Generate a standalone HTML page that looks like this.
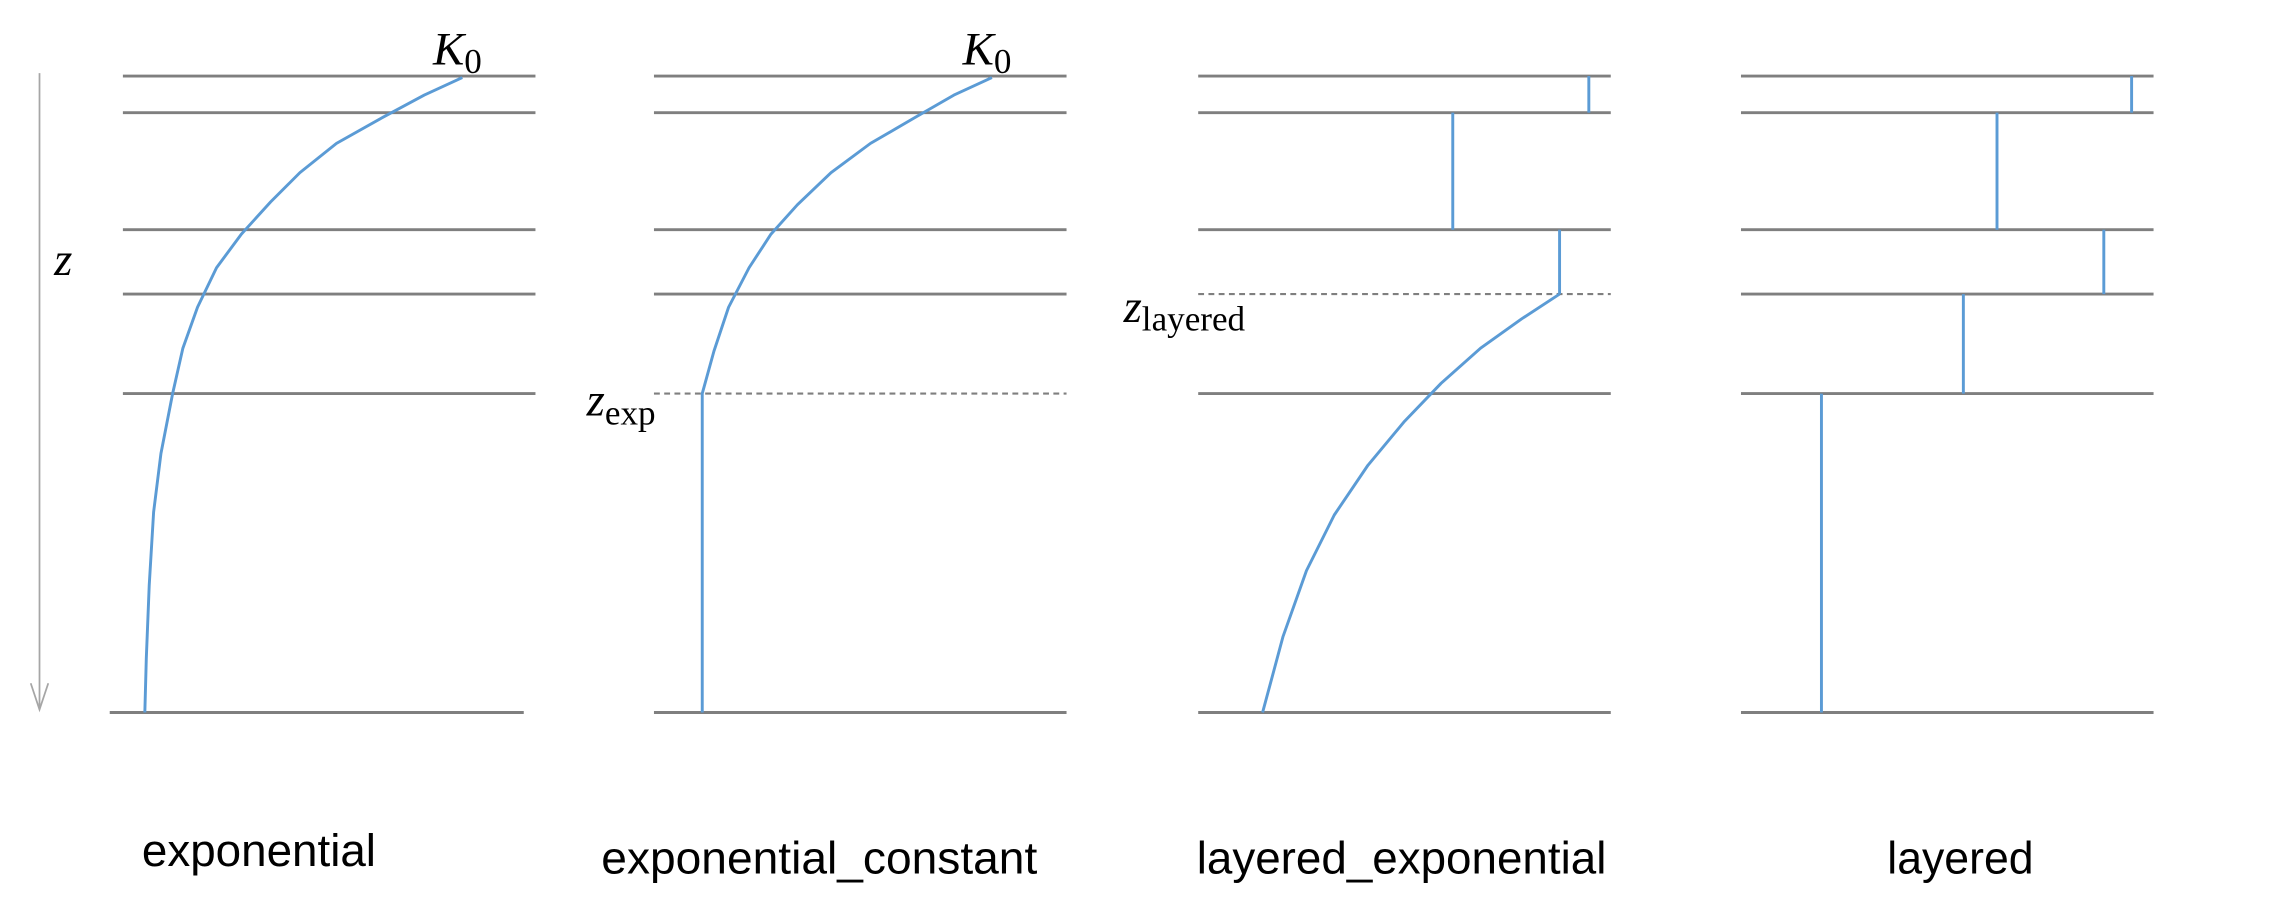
<!DOCTYPE html>
<html><head><style>html,body{margin:0;padding:0;background:#fff}svg{display:block}</style></head>
<body>
<svg width="2294" height="903" viewBox="0 0 1568 617.2" preserveAspectRatio="none" xmlns="http://www.w3.org/2000/svg">
<g stroke="#7f7f7f" stroke-width="2" fill="none">
<line x1="84" y1="52" x2="366" y2="52"/><line x1="84" y1="77" x2="366" y2="77"/><line x1="84" y1="157" x2="366" y2="157"/><line x1="84" y1="201" x2="366" y2="201"/><line x1="84" y1="269" x2="366" y2="269"/><line x1="75" y1="487" x2="358" y2="487"/>
<line x1="447" y1="52" x2="729" y2="52"/><line x1="447" y1="77" x2="729" y2="77"/><line x1="447" y1="157" x2="729" y2="157"/><line x1="447" y1="201" x2="729" y2="201"/><line x1="447" y1="487" x2="729" y2="487"/>
<line x1="819" y1="52" x2="1101" y2="52"/><line x1="819" y1="77" x2="1101" y2="77"/><line x1="819" y1="157" x2="1101" y2="157"/><line x1="819" y1="269" x2="1101" y2="269"/><line x1="819" y1="487" x2="1101" y2="487"/>
<line x1="1190" y1="52" x2="1472" y2="52"/><line x1="1190" y1="77" x2="1472" y2="77"/><line x1="1190" y1="157" x2="1472" y2="157"/><line x1="1190" y1="201" x2="1472" y2="201"/><line x1="1190" y1="269" x2="1472" y2="269"/><line x1="1190" y1="487" x2="1472" y2="487"/>
</g>
<g stroke="#7f7f7f" stroke-width="1.5" stroke-dasharray="4,3">
<line x1="447" y1="269" x2="729" y2="269"/><line x1="819" y1="201" x2="1101" y2="201"/>
</g>
<g stroke="#a6a6a6" stroke-width="1.2" fill="none">
<line x1="27" y1="50" x2="27" y2="485"/><polyline points="21,467 27,485 33,467"/>
</g>
<g stroke="#5b9bd5" stroke-width="2" fill="none" stroke-linejoin="round">
<polyline points="316,53 290,65 262,80 230,98 205,118 185,138 165,160 148,183 135,210 125,238 118,269 110,310 105,350 102,400 100,450 99,487"/>
<polyline points="678,53 652,65 626,80 595,98 568,118 545,140 527,160 512,183 498,210 488,240 480,269 480,487"/>
<polyline points="1086,52 1086,77"/><polyline points="993,77 993,157"/><polyline points="1066,157 1066,201"/>
<polyline points="1066,201 1040,218 1012,238 985,262 960,288 935,318 912,352 893,390 877,435 863,487"/>
<line x1="1457" y1="52" x2="1457" y2="77"/><line x1="1365" y1="77" x2="1365" y2="157"/><line x1="1438" y1="157" x2="1438" y2="201"/><line x1="1342" y1="201" x2="1342" y2="269"/><line x1="1245" y1="269" x2="1245" y2="487"/>
</g>
<g font-family="Liberation Serif, serif" fill="#000">
<text x="37" y="188" font-size="32" font-style="italic">z</text>
<text x="296" y="44" font-size="32" font-style="italic">K<tspan font-style="normal" font-size="24" dy="6">0</tspan></text>
<text x="658" y="44" font-size="32" font-style="italic">K<tspan font-style="normal" font-size="24" dy="6">0</tspan></text>
<text x="401" y="284" font-size="32" font-style="italic">z<tspan font-style="normal" font-size="24" dy="6">exp</tspan></text>
<text x="768" y="220" font-size="32" font-style="italic">z<tspan font-style="normal" font-size="24" dy="6">layered</tspan></text>
</g>
<g font-family="Liberation Sans Narrow, Liberation Sans, sans-serif" font-size="31" fill="#000" text-anchor="middle">
<text x="177" y="592" textLength="160" lengthAdjust="spacingAndGlyphs">exponential</text>
<text x="560" y="597" textLength="298" lengthAdjust="spacingAndGlyphs">exponential_constant</text>
<text x="958" y="597" textLength="280" lengthAdjust="spacingAndGlyphs">layered_exponential</text>
<text x="1340" y="597" textLength="100" lengthAdjust="spacingAndGlyphs">layered</text>
</g>
</svg>
</body></html>
